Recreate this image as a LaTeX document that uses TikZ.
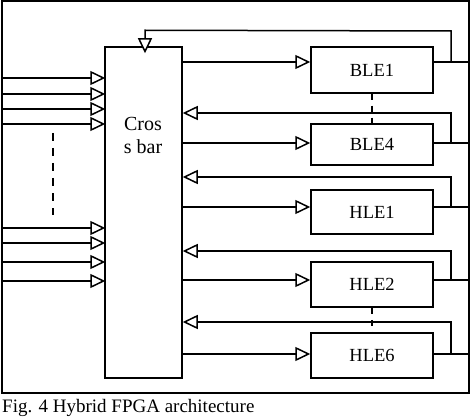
\documentclass[tikz,border=0pt]{standalone}
\usepackage{fontspec}
\setmainfont{Liberation Serif}
\usetikzlibrary{arrows.meta,calc}

\begin{document}
\begin{tikzpicture}[x=1pt,y=-1pt]
\tikzstyle{every node}=[font=\fontsize{18.5}{22}\selectfont]
\tikzstyle{wire}=[line width=1.5pt]
\tikzstyle{inarrow}=[wire,-{Triangle[open,length=15pt,width=14pt,fill=white]}]
\tikzstyle{lebox}=[draw,line width=1.5pt,minimum width=122pt,inner sep=0pt]

\useasboundingbox (0,0) rectangle (474,417);

% Outer frame, inputs enter on the left, outputs go to the right side
\draw[line width=2pt] (2,1.5) rectangle (469,393);
\coordinate (west) at (2,0);
\coordinate (east) at (469,0);
\coordinate (bus) at (451,0);

% Cross bar
\node[draw,line width=1.5pt,minimum width=77pt,minimum height=331pt] (crossbar) at (143.5,212.5) {};
\node[align=center,inner sep=0pt,font=\fontsize{20}{23}\selectfont] (cbtext) at (143,135) {Cros\\s bar};

% Logic elements
\node[lebox,minimum height=46pt] (ble1) at (372,70) {BLE1};
\node[lebox,minimum height=41pt] (ble4) at (372,144.5) {BLE4};
\node[lebox,minimum height=44pt] (hle1) at (372,212) {HLE1};
\node[lebox,minimum height=45pt] (hle2) at (372,284.5) {HLE2};
\node[lebox,minimum height=45pt] (hle6) at (372,355.5) {HLE6};

\draw[wire,dash pattern=on 6pt off 6pt] (ble1.south) -- (ble4.north);
\draw[wire,dash pattern=on 6pt off 6pt] (hle2.south) -- (hle6.north);

% Primary inputs
\foreach \y in {78,94,109,124,228,243,262,281}
  \draw[inarrow] (west |- 0,\y) -- ($(crossbar.west |- 0,\y)+(1,0)$);
\draw[wire,dash pattern=on 8pt off 7pt] (53,133) -- (53,215);

% Cross bar to logic elements, outputs and feedback
\foreach \b/\y/\f in {ble4/143/113,hle1/207/177,hle2/280/251,hle6/354/322}{
  \draw[inarrow] (crossbar.east |- 0,\y) -- (\b.west |- 0,\y);
  \draw[wire] (\b.east |- 0,\y) -- (east |- 0,\y);
  \draw[inarrow] (bus |- 0,\y) -- (bus |- 0,\f) -- (crossbar.east |- 0,\f);
}
\draw[inarrow] (crossbar.east |- 0,62) -- (ble1.west |- 0,62);
\draw[wire] (ble1.east |- 0,62) -- (east |- 0,62);
\draw[inarrow] (bus |- 0,62) -- (bus |- 0,31) -- ($(crossbar.north)+(1.5,-16)$)
  -- ($(crossbar.north)+(1.5,7)$);

\node[anchor=base west,inner sep=0pt,font=\fontsize{19}{22}\selectfont] (caption) at (2,412) {Fig. 4 Hybrid FPGA architecture};

\end{tikzpicture}
\end{document}
